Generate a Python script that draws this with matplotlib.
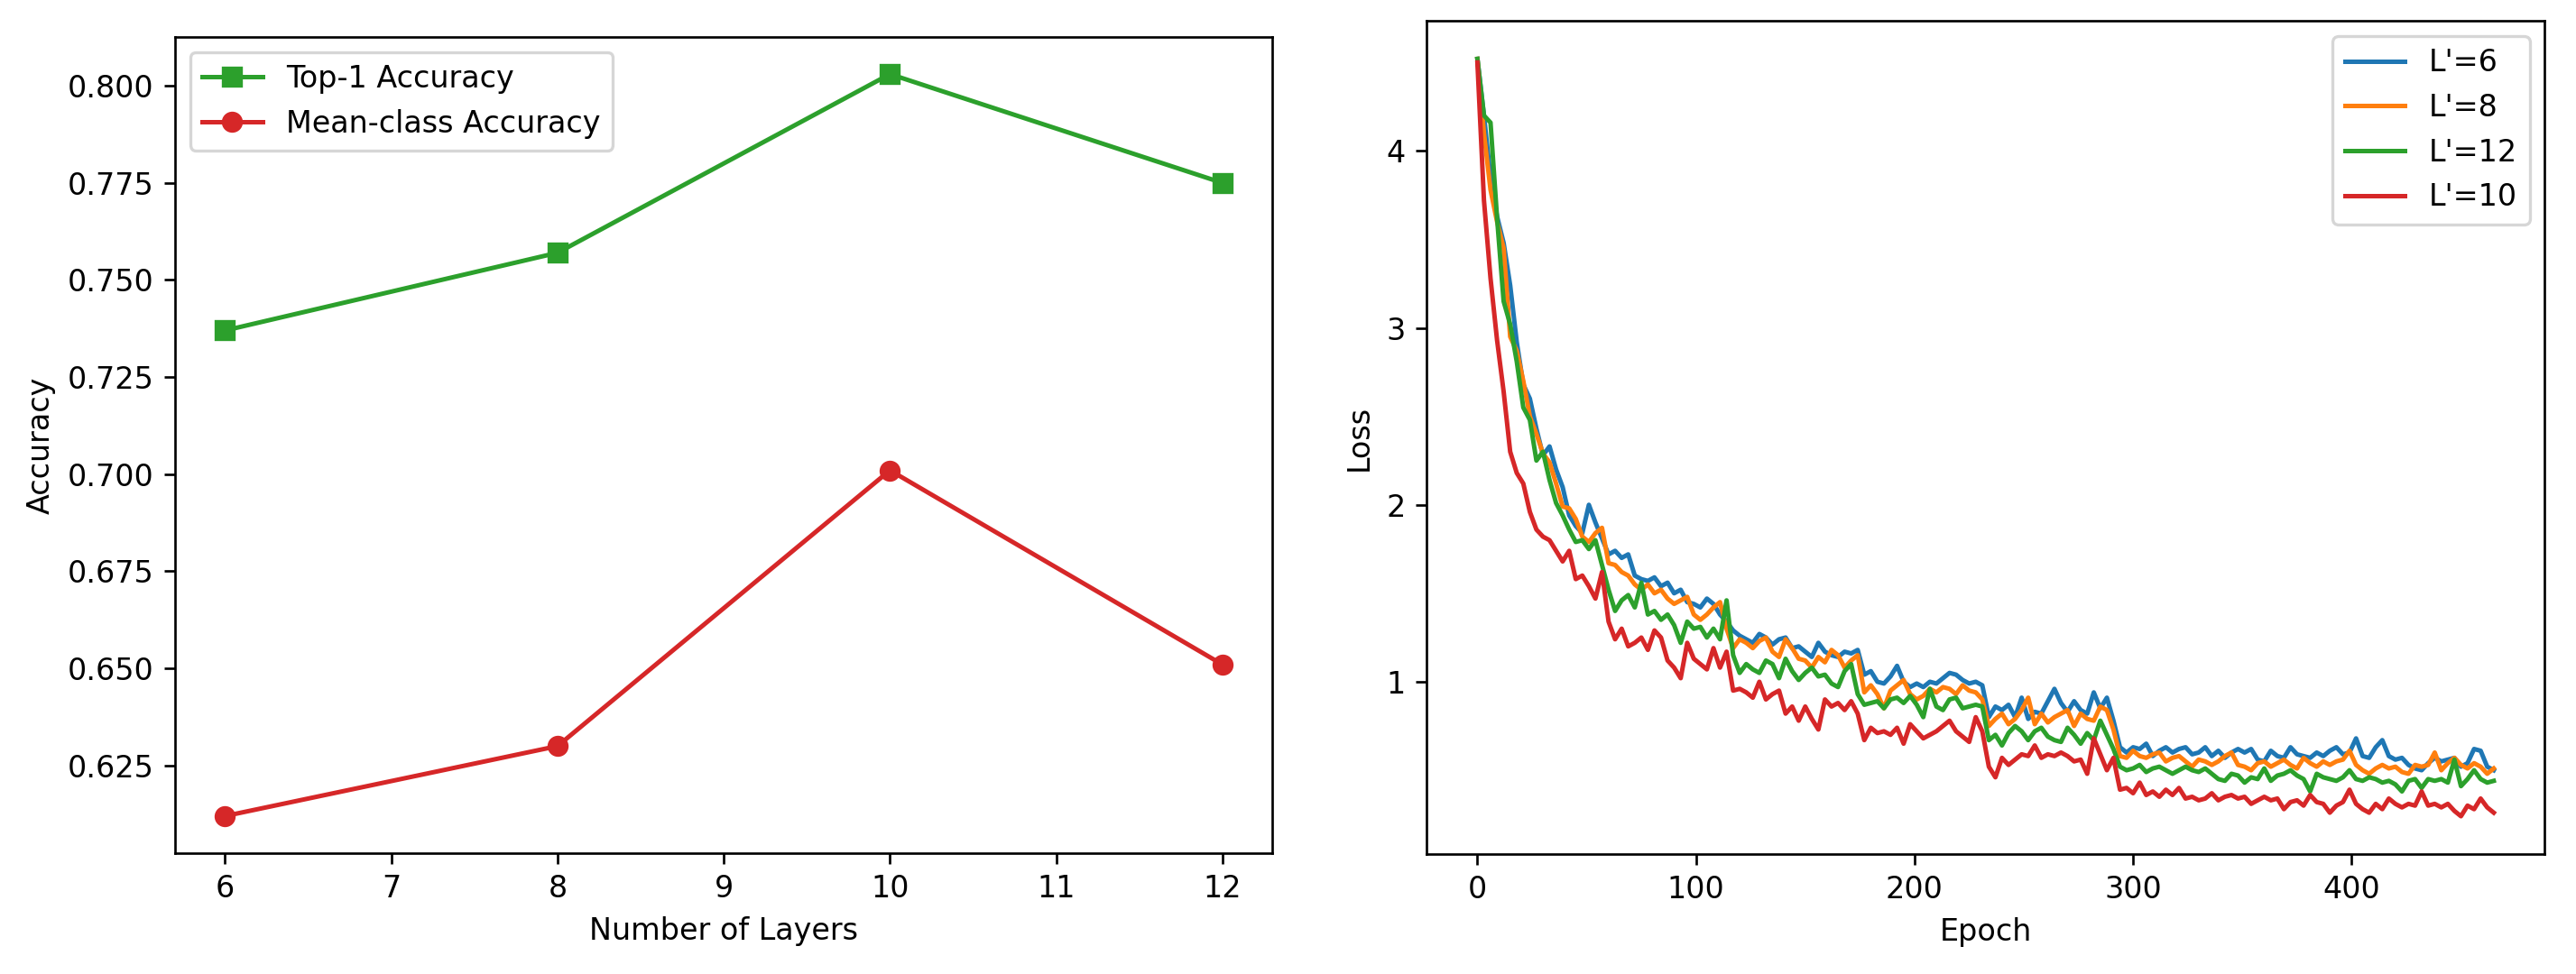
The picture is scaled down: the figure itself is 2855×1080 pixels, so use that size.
import numpy as np
import matplotlib
matplotlib.use('Agg')
import matplotlib.pyplot as plt

# left panel: accuracy vs number of layers
layers = [6, 8, 10, 12]
top1_acc = [0.737, 0.757, 0.803, 0.775]
mean_class_acc = [0.612, 0.630, 0.701, 0.651]

# right panel: training loss, one value read every 3 epochs
epoch_step = 3
loss_l6 = [
    4.52, 4.20, 3.85, 3.63, 3.48, 3.24, 2.92, 2.68, 2.60, 2.43,
    2.28, 2.33, 2.20, 2.10, 1.94, 1.88, 1.84, 2.00, 1.90, 1.81,
    1.72, 1.74, 1.70, 1.72, 1.60, 1.58, 1.57, 1.59, 1.54, 1.56,
    1.50, 1.52, 1.45, 1.44, 1.42, 1.47, 1.44, 1.38, 1.34, 1.29,
    1.26, 1.24, 1.22, 1.27, 1.25, 1.21, 1.24, 1.25, 1.19, 1.20,
    1.17, 1.14, 1.22, 1.17, 1.15, 1.14, 1.17, 1.16, 1.18, 1.04,
    1.06, 1.00, 0.99, 1.03, 1.09, 1.00, 0.97, 0.99, 0.97, 1.00,
    0.99, 1.02, 1.05, 1.04, 1.01, 0.99, 1.00, 0.98, 0.80, 0.86,
    0.84, 0.87, 0.80, 0.91, 0.79, 0.83, 0.82, 0.89, 0.96, 0.88,
    0.83, 0.89, 0.84, 0.82, 0.94, 0.85, 0.91, 0.78, 0.63, 0.60,
    0.63, 0.62, 0.65, 0.58, 0.61, 0.63, 0.60, 0.62, 0.63, 0.59,
    0.60, 0.63, 0.58, 0.61, 0.57, 0.60, 0.62, 0.60, 0.62, 0.56,
    0.55, 0.61, 0.58, 0.57, 0.63, 0.59, 0.58, 0.57, 0.60, 0.58,
    0.61, 0.63, 0.59, 0.60, 0.68, 0.58, 0.57, 0.63, 0.67, 0.58,
    0.56, 0.57, 0.53, 0.51, 0.50, 0.54, 0.57, 0.55, 0.56, 0.57,
    0.52, 0.54, 0.62, 0.61, 0.52, 0.50]
loss_l8 = [
    4.52, 4.10, 3.78, 3.60, 3.45, 2.95, 2.87, 2.70, 2.50, 2.40,
    2.29, 2.24, 2.12, 1.99, 1.98, 1.92, 1.82, 1.79, 1.84, 1.87,
    1.67, 1.66, 1.62, 1.60, 1.55, 1.52, 1.55, 1.50, 1.52, 1.47,
    1.44, 1.46, 1.48, 1.38, 1.35, 1.38, 1.42, 1.45, 1.30, 1.19,
    1.24, 1.22, 1.19, 1.23, 1.25, 1.17, 1.14, 1.24, 1.19, 1.13,
    1.12, 1.08, 1.14, 1.11, 1.18, 1.15, 1.08, 1.12, 1.15, 0.94,
    0.98, 0.93, 0.85, 0.95, 0.98, 1.01, 0.93, 0.90, 0.92, 0.96,
    0.94, 0.97, 0.96, 0.93, 0.98, 0.95, 0.94, 0.90, 0.75, 0.79,
    0.82, 0.76, 0.79, 0.84, 0.91, 0.76, 0.82, 0.77, 0.80, 0.82,
    0.84, 0.75, 0.82, 0.79, 0.78, 0.86, 0.84, 0.73, 0.58, 0.57,
    0.61, 0.58, 0.57, 0.59, 0.60, 0.55, 0.57, 0.58, 0.55, 0.52,
    0.56, 0.55, 0.53, 0.55, 0.58, 0.60, 0.53, 0.52, 0.50, 0.54,
    0.55, 0.52, 0.54, 0.56, 0.53, 0.51, 0.57, 0.54, 0.52, 0.55,
    0.53, 0.55, 0.56, 0.61, 0.53, 0.50, 0.48, 0.51, 0.53, 0.51,
    0.52, 0.49, 0.48, 0.53, 0.52, 0.53, 0.60, 0.50, 0.54, 0.57,
    0.53, 0.51, 0.54, 0.52, 0.48, 0.51]
loss_l12 = [
    4.52, 4.20, 4.16, 3.62, 3.15, 3.02, 2.81, 2.55, 2.48, 2.25,
    2.30, 2.14, 2.01, 1.94, 1.86, 1.79, 1.80, 1.75, 1.80, 1.66,
    1.52, 1.40, 1.46, 1.49, 1.42, 1.56, 1.38, 1.40, 1.35, 1.38,
    1.32, 1.22, 1.34, 1.30, 1.31, 1.25, 1.30, 1.24, 1.46, 1.15,
    1.05, 1.10, 1.07, 1.05, 1.12, 1.10, 1.02, 1.13, 1.06, 1.01,
    1.05, 1.08, 1.03, 1.04, 0.99, 0.97, 1.06, 1.10, 0.93, 0.87,
    0.88, 0.89, 0.85, 0.90, 0.91, 0.88, 0.92, 0.87, 0.80, 0.96,
    0.86, 0.84, 0.90, 0.91, 0.85, 0.86, 0.87, 0.86, 0.67, 0.70,
    0.64, 0.71, 0.75, 0.72, 0.67, 0.72, 0.74, 0.69, 0.67, 0.66,
    0.74, 0.70, 0.65, 0.71, 0.67, 0.78, 0.70, 0.62, 0.52, 0.50,
    0.51, 0.53, 0.49, 0.51, 0.52, 0.50, 0.48, 0.50, 0.52, 0.50,
    0.49, 0.51, 0.48, 0.45, 0.44, 0.48, 0.47, 0.43, 0.46, 0.45,
    0.51, 0.44, 0.47, 0.48, 0.50, 0.47, 0.45, 0.38, 0.48, 0.46,
    0.45, 0.44, 0.46, 0.50, 0.45, 0.44, 0.46, 0.45, 0.43, 0.44,
    0.42, 0.38, 0.44, 0.45, 0.40, 0.45, 0.44, 0.45, 0.43, 0.56,
    0.41, 0.45, 0.50, 0.45, 0.43, 0.44]
loss_l10 = [
    4.50, 3.72, 3.28, 2.93, 2.64, 2.30, 2.18, 2.12, 1.96, 1.86,
    1.82, 1.80, 1.74, 1.68, 1.74, 1.58, 1.60, 1.54, 1.47, 1.62,
    1.34, 1.24, 1.30, 1.20, 1.22, 1.25, 1.18, 1.29, 1.25, 1.12,
    1.08, 1.02, 1.22, 1.13, 1.10, 1.07, 1.19, 1.08, 1.17, 0.95,
    0.96, 0.94, 0.91, 1.00, 0.90, 0.93, 0.95, 0.82, 0.86, 0.78,
    0.86, 0.79, 0.73, 0.90, 0.86, 0.88, 0.84, 0.89, 0.82, 0.67,
    0.74, 0.71, 0.72, 0.70, 0.74, 0.65, 0.76, 0.72, 0.68, 0.70,
    0.72, 0.75, 0.78, 0.72, 0.69, 0.66, 0.80, 0.72, 0.52, 0.46,
    0.57, 0.53, 0.56, 0.59, 0.58, 0.64, 0.57, 0.59, 0.58, 0.60,
    0.58, 0.55, 0.56, 0.48, 0.68, 0.59, 0.50, 0.57, 0.39, 0.40,
    0.37, 0.43, 0.36, 0.38, 0.35, 0.39, 0.36, 0.40, 0.34, 0.35,
    0.33, 0.34, 0.37, 0.33, 0.35, 0.36, 0.34, 0.35, 0.31, 0.33,
    0.35, 0.33, 0.34, 0.28, 0.32, 0.33, 0.30, 0.36, 0.32, 0.31,
    0.26, 0.30, 0.32, 0.39, 0.31, 0.28, 0.26, 0.31, 0.28, 0.34,
    0.31, 0.29, 0.31, 0.30, 0.38, 0.30, 0.31, 0.29, 0.31, 0.27,
    0.24, 0.30, 0.28, 0.34, 0.29, 0.26]
loss_labels = ["L'=6", "L'=8", "L'=12", "L'=10"]

fig = plt.figure(figsize=(2855 / 240, 1080 / 240), dpi=240)

ax1 = fig.add_axes([0.0680, 0.1241, 0.4259, 0.8379])
ax1.plot(layers, top1_acc, color='tab:green', marker='s', label='Top-1 Accuracy')
ax1.plot(layers, mean_class_acc, color='tab:red', marker='o', label='Mean-class Accuracy')
ax1.set_xlabel('Number of Layers')
ax1.set_ylabel('Accuracy')
ax1.legend(loc='upper left')

ax2 = fig.add_axes([0.5538, 0.1231, 0.4340, 0.8553])
for loss, lab in zip([loss_l6, loss_l8, loss_l12, loss_l10], loss_labels):
    epochs = np.arange(len(loss)) * epoch_step
    ax2.plot(epochs, loss, label=lab)
ax2.set_xlabel('Epoch')
ax2.set_ylabel('Loss')
ax2.legend(loc='upper right')

fig.savefig('out.png', dpi=240)
